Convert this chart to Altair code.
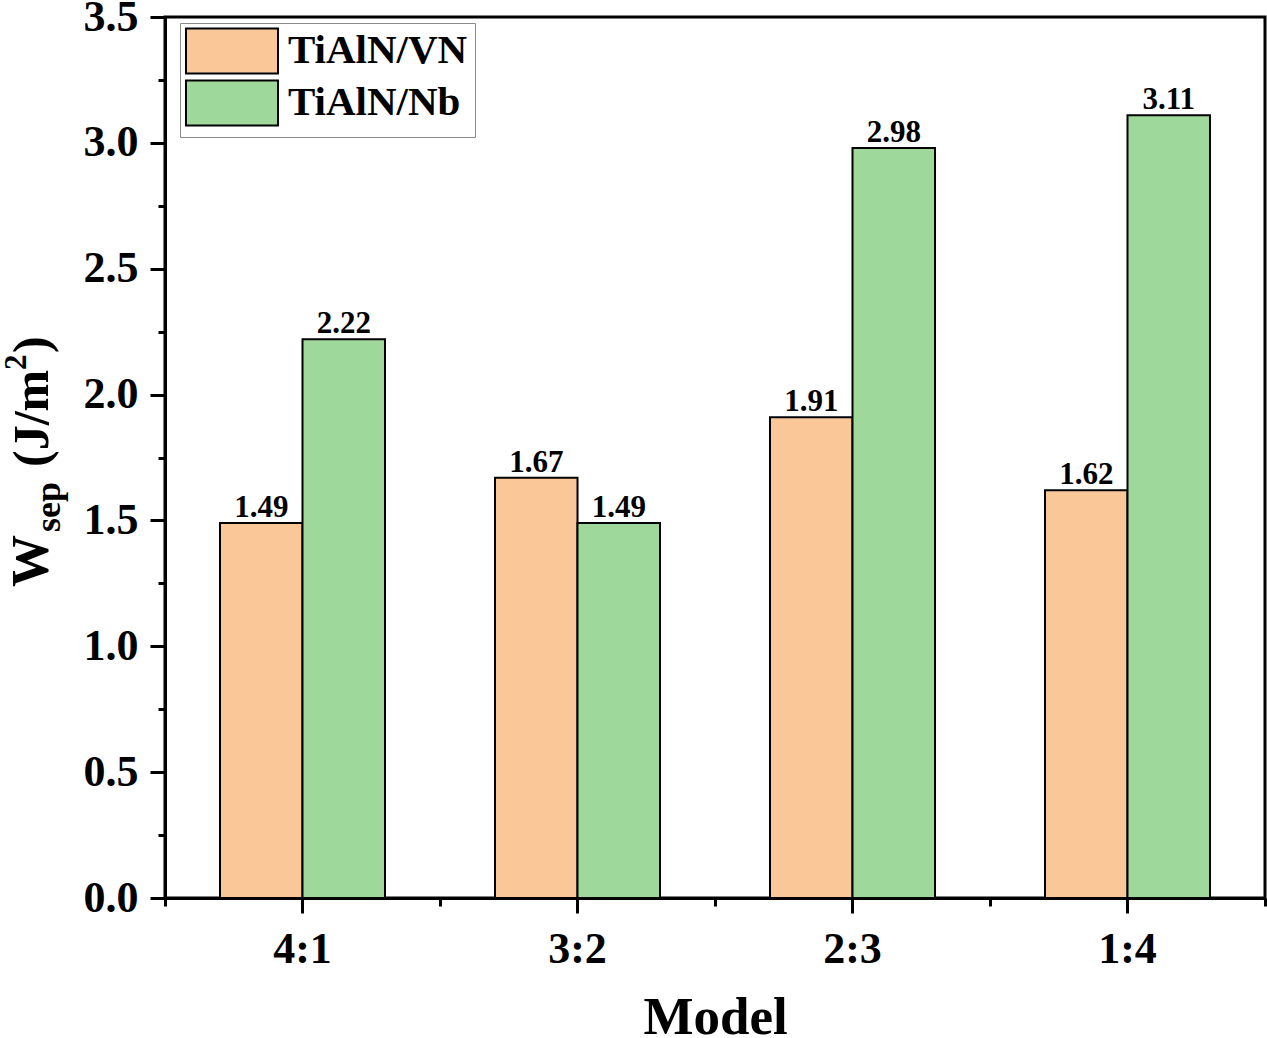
import altair as alt
import pandas as pd

models = ["4:1", "3:2", "2:3", "1:4"]
series = ["TiAlN/VN", "TiAlN/Nb"]
vn_values = [1.49, 1.67, 1.91, 1.62]
nb_values = [2.22, 1.49, 2.98, 3.11]
colors = ["#FAC898", "#9FD89B"]
y_major = [0.0, 0.5, 1.0, 1.5, 2.0, 2.5, 3.0, 3.5]
y_minor = [0.25, 0.75, 1.25, 1.75, 2.25, 2.75, 3.25]

rows = []
for m, a, b in zip(models, vn_values, nb_values):
    rows.append({"Model": m, "Series": series[0], "Value": a})
    rows.append({"Model": m, "Series": series[1], "Value": b})
df = pd.DataFrame(rows)

FONT = "Liberation Serif"

x_scale = alt.Scale(domain=models, paddingInner=0, paddingOuter=0)
xo_scale = alt.Scale(domain=series, paddingInner=0, paddingOuter=2 / 3)
y_scale = alt.Scale(domain=[0, 3.5], nice=False, zero=True)

base = alt.Chart(df)

bars = base.mark_bar(stroke="black", strokeWidth=2).encode(
    x=alt.X("Model:N", sort=models, scale=x_scale,
            axis=alt.Axis(title="Model", labelAngle=0, tickSize=15, tickWidth=3,
                          tickColor="black", domainColor="black", domainWidth=3,
                          labelFont=FONT, labelFontSize=44, labelFontWeight="bold",
                          labelColor="black", labelPadding=14,
                          titleFont=FONT, titleFontSize=53, titleFontWeight="bold",
                          titleColor="black", titleX=550, titleY=135,
                          titleBaseline="alphabetic", titleAnchor="middle",
                          titleAlign="center")),
    xOffset=alt.XOffset("Series:N", sort=series, scale=xo_scale),
    y=alt.Y("Value:Q", scale=y_scale,
            axis=alt.Axis(title=None, values=y_major, format=".1f", tickSize=15,
                          tickWidth=3, tickColor="black", domainColor="black",
                          domainWidth=3, grid=False, labelFont=FONT,
                          labelFontSize=44, labelFontWeight="bold",
                          labelColor="black", labelPadding=12)),
    color=alt.Color("Series:N", sort=series,
                    scale=alt.Scale(domain=series, range=colors),
                    legend=alt.Legend(title=None, orient="none", legendX=15, legendY=6,
                                      symbolType="M-2.3,-1.125H2.3V1.125H-2.3Z",
                                      symbolSize=1600, symbolStrokeColor="black",
                                      symbolStrokeWidth=2, symbolOpacity=1,
                                      symbolOffset=24,
                                      labelFont=FONT, labelFontSize=41,
                                      labelFontWeight="bold", labelColor="black",
                                      labelOffset=35, rowPadding=-2, padding=7,
                                      strokeColor="#8a8a8a", fillColor="white",
                                      labelLimit=400)),
)

labels = base.mark_text(font=FONT, fontSize=31, fontWeight="bold", color="black",
                        baseline="alphabetic", dy=-6).encode(
    x=alt.X("Model:N", sort=models, scale=x_scale,
            axis=alt.Axis(title=None, labels=False, domain=False, tickBand="extent",
                          tickSize=8, tickWidth=3, tickColor="black", orient="bottom")),
    xOffset=alt.XOffset("Series:N", sort=series, scale=xo_scale),
    y=alt.Y("Value:Q", scale=y_scale,
            axis=alt.Axis(title=None, values=y_minor, labels=False, domain=False,
                          tickSize=7, tickWidth=3, tickColor="black", grid=False,
                          orient="left")),
    text=alt.Text("Value:Q", format=".2f"),
)

def title_piece(txt, size, xpos, ypos):
    return alt.Chart(pd.DataFrame({"t": [txt]})).mark_text(
        font=FONT, fontSize=size, fontWeight="bold", color="black",
        angle=270, align="left", baseline="alphabetic").encode(
        text="t:N", x=alt.value(xpos), y=alt.value(ypos))

# y title  W_sep (J/m^2), positioned relative to the plot origin
t1 = title_piece("W", 52, -117, 570)
t2 = title_piece("sep", 36, -105, 515)
t3 = title_piece("(J/m", 50, -117, 450)
t4 = title_piece("2", 31, -139, 353)
t5 = title_piece(")", 50, -117, 336)

chart = alt.layer(bars, labels, t1, t2, t3, t4, t5).resolve_axis(
    x="independent", y="independent"
).properties(
    width=1100, height=881,
    padding={"left": 165, "top": 17, "right": 2, "bottom": 140},
    autosize=alt.AutoSizeParams(type="none"),
    background="white",
).configure_view(stroke="black", strokeWidth=3)

chart.save("out.html", embed_options={"renderer": "svg", "actions": False})
